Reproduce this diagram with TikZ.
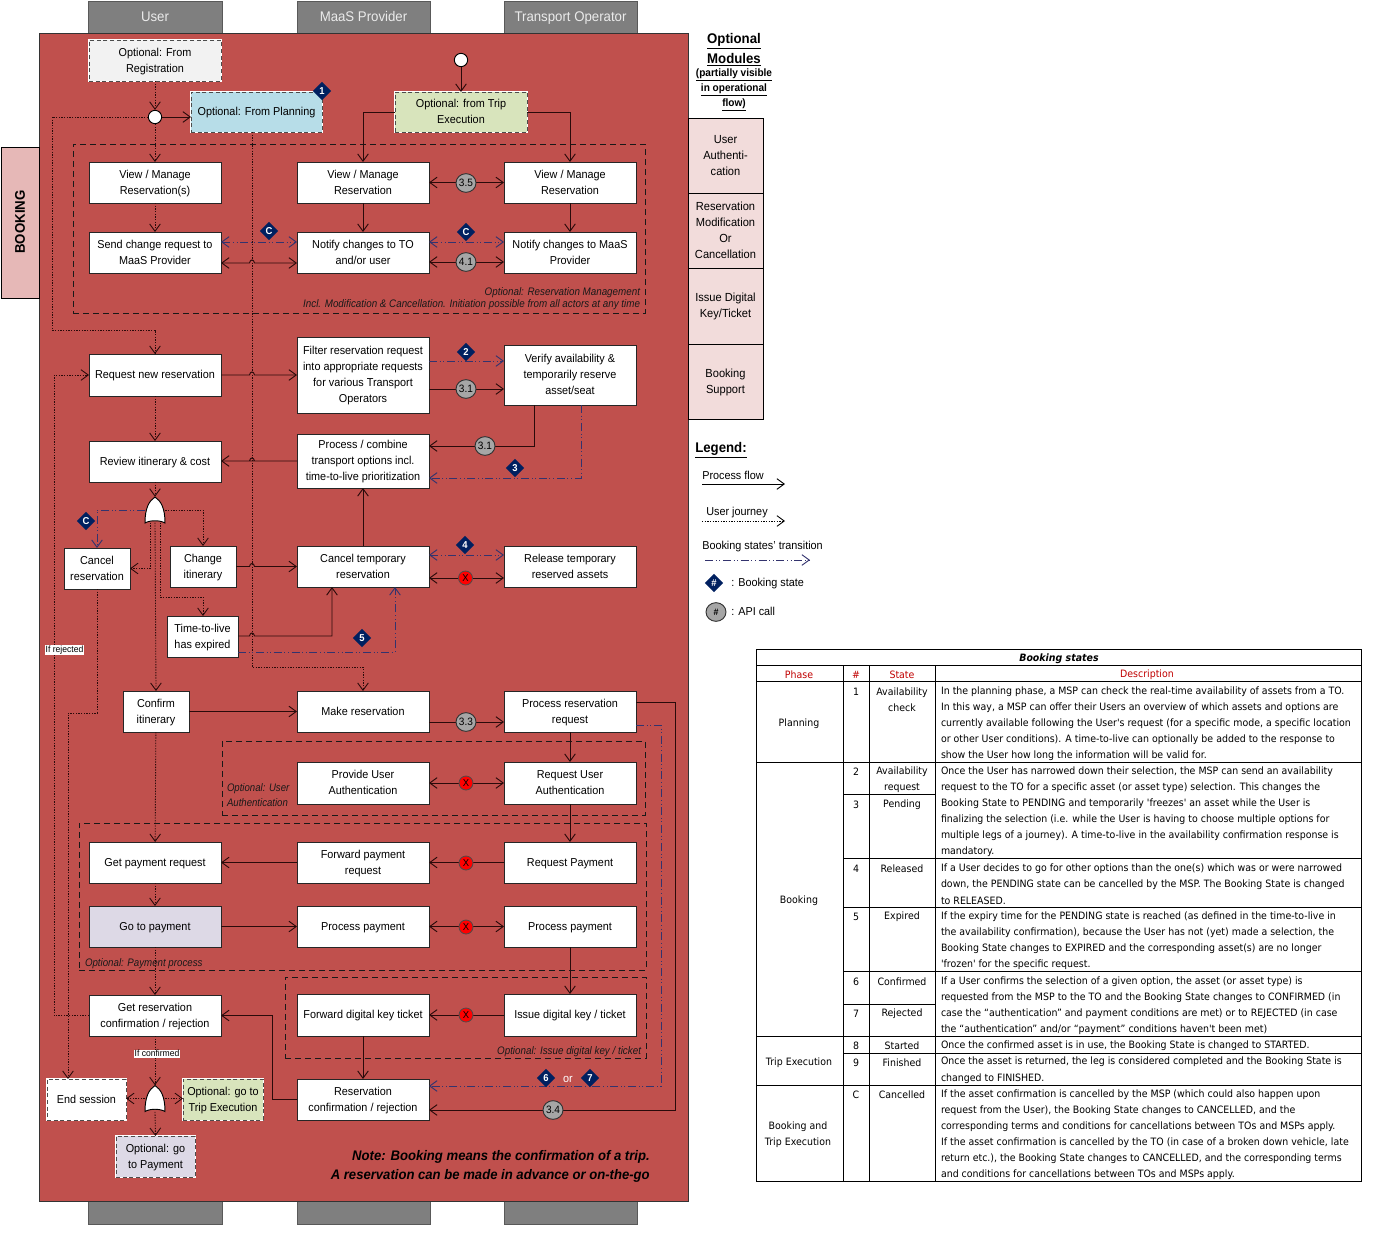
\documentclass[tikz,border=0pt]{standalone}
\usepackage{fontspec}
\setmainfont[FakeStretch=0.945]{Liberation Sans}
\newfontfamily\tblfont[FakeStretch=0.93]{DejaVu Sans}
\usetikzlibrary{arrows.meta,shapes.geometric,calc}
\definecolor{bookred}{HTML}{C0504D}
\definecolor{tabgray}{HTML}{7F7F7F}
\definecolor{linedark}{HTML}{2A0A0A}
\definecolor{statecol}{HTML}{33336E}
\definecolor{navy}{HTML}{002060}
\definecolor{optblue}{HTML}{B7DDE8}
\definecolor{optgreen}{HTML}{D8E4BC}
\definecolor{optpurple}{HTML}{DDD9E6}
\definecolor{modpink}{HTML}{F2DCDB}
\definecolor{sidepink}{HTML}{E6B8B7}
\definecolor{apigray}{HTML}{A6A6A6}
\definecolor{tblred}{HTML}{C00000}
\newcommand{\bx}[7]{%
 \pgfmathsetmacro\cxx{(#3+#5)/2}\pgfmathsetmacro\cyy{(#4+#6)/2}%
 \pgfmathsetmacro\ww{(#5-#3)*0.75}\pgfmathsetmacro\hh{(#6-#4)*0.75}%
 \node[#1,minimum width=\ww pt,minimum height=\hh pt] (#2) at (\cxx,\cyy) {};
 {\tikzset{optwhite/.style={}}%
 \node[#1,draw=none,fill=none] (#2text) at (\cxx,\cyy+0.7) {\rule{0pt}{6.5pt}#7\rule[-1.8pt]{0pt}{0pt}};}}
\newcommand{\bump}[1]{-- (249.5,#1) .. controls (250,#1-4) and (254,#1-4) .. (254.5,#1)}
\tikzset{
 optwhite/.style={preaction={draw=white,solid,line width=1pt}},
 txt/.style={font=\fontsize{8.6}{12}\selectfont,align=center,inner sep=0pt,outer sep=0pt},
 procbox/.style={txt,draw=black!85,line width=0.7pt,fill=white},
 optbox/.style={txt,optwhite,draw=black!70,line width=0.65pt,dash pattern=on 3pt off 2pt},
 tabbox/.style={txt,draw=black!65,line width=0.7pt,fill=tabgray,text=white!92!black,font=\fontsize{10.5}{12}\selectfont},
 modbox/.style={txt,draw=black,line width=0.7pt,fill=modpink,font=\fontsize{8.8}{12}\selectfont},
 groupbox/.style={draw=black!90,line width=0.7pt,dash pattern=on 4.5pt off 3pt},
 flow/.style={draw=linedark,line width=0.7pt,-{Straight Barb[length=5.5pt,width=8pt]}},
 flowboth/.style={draw=linedark,line width=0.7pt,{Straight Barb[length=5.5pt,width=8pt]}-{Straight Barb[length=5.5pt,width=8pt]}},
 journey/.style={draw=linedark,line width=0.65pt,dash pattern=on 1pt off 1pt,-{Straight Barb[length=5.5pt,width=8pt]}},
 statearr/.style={draw=statecol,line width=0.7pt,dash pattern=on 6pt off 2pt on 0.7pt off 2pt on 0.7pt off 2pt,-{Straight Barb[length=5.5pt,width=8pt]}},
 stateboth/.style={draw=statecol,line width=0.7pt,dash pattern=on 6pt off 2pt on 0.7pt off 2pt on 0.7pt off 2pt,{Straight Barb[length=5.5pt,width=8pt]}-{Straight Barb[length=5.5pt,width=8pt]}},
 badge/.style={diamond,aspect=1,fill=navy,text=white,font=\fontsize{7.5}{8}\bfseries\selectfont,inner sep=0pt,minimum size=14pt},
 api/.style={ellipse,draw=black!80,line width=0.7pt,fill=apigray,inner sep=0pt,minimum width=15pt,minimum height=14pt,font=\fontsize{8}{8}\selectfont},
 xmark/.style={circle,draw=black!70,line width=0.6pt,fill=red,inner sep=0pt,minimum size=10.5pt,font=\fontsize{7.5}{8}\selectfont},
 startdot/.style={circle,draw=black,line width=0.7pt,fill=white,inner sep=0pt,minimum size=10pt},
 gatebox/.style={inner sep=0pt,minimum width=15pt,minimum height=19.5pt},
 gateshape/.style={draw=black,line width=0.7pt,fill=white},
 optlabel/.style={txt,font=\fontsize{8.2}{9}\itshape\selectfont,text=black!90},
 tag/.style={fill=white,inner sep=0.5pt,font=\fontsize{6.8}{8}\selectfont},
 tbl/.style={inner sep=0pt,outer sep=0pt,font=\tblfont\fontsize{7.6}{12}\selectfont},
 tblc/.style={tbl,align=center},
 legendtext/.style={inner sep=0pt,anchor=west,font=\fontsize{8.6}{12}\selectfont},
}
\begin{document}
\begin{tikzpicture}[x=0.75pt,y=-0.75pt]
\useasboundingbox (0,0) rectangle (1378,1253);
% tabs
\bx{tabbox}{tabU}{88}{1}{222}{33}{User}
\bx{tabbox}{tabM}{297}{1}{430}{33}{MaaS Provider}
\bx{tabbox}{tabT}{504}{1}{637}{33}{Transport Operator}
\bx{tabbox}{tabUb}{88}{1201}{222}{1224}{}
\bx{tabbox}{tabMb}{297}{1201}{430}{1224}{}
\bx{tabbox}{tabTb}{504}{1201}{637}{1224}{}
% main panel
\bx{draw=black!80,line width=0.7pt,fill=bookred}{panel}{39}{33}{688}{1201}{}
\bx{txt,draw=black,line width=0.7pt,fill=sidepink}{side}{1}{147}{39}{298}{\rotatebox{90}{\fontsize{10.5}{12}\bfseries\selectfont BOOKING}}
% group frames
\bx{groupbox}{grpA}{73}{144}{645}{313}{}
\bx{groupbox}{grpB}{222}{741}{645}{815}{}
\bx{groupbox}{grpC}{79}{823}{646}{970}{}
\bx{groupbox}{grpD}{285}{977}{646}{1058}{}
% boxes
\bx{optbox,fill=black!5}{reg}{89}{40}{221}{81}{Optional: From\\Registration}
\bx{optbox,fill=optblue}{plan}{191}{92}{322}{132}{Optional: From Planning}
\bx{optbox,fill=optgreen}{trip}{395}{92}{527}{132}{Optional: from Trip\\Execution}
\node[startdot] (dotU) at (155,117) {};
\node[startdot] (dotT) at (461,60) {};
\bx{procbox}{viewU}{89}{162}{221}{203}{View / Manage\\Reservation(s)}
\bx{procbox}{viewM}{297}{162}{429}{203}{View / Manage\\Reservation}
\bx{procbox}{viewT}{504}{162}{636}{203}{View / Manage\\Reservation}
\bx{procbox}{send}{89}{232}{221}{273}{Send change request to\\MaaS Provider}
\bx{procbox}{notM}{297}{232}{429}{273}{Notify changes to TO\\and/or user}
\bx{procbox}{notT}{504}{232}{636}{273}{Notify changes to MaaS\\Provider}
\bx{procbox}{reqnew}{89}{354}{221}{396}{Request new reservation}
\bx{procbox}{filter}{297}{337}{429}{413}{Filter reservation request\\into appropriate requests\\for various Transport\\Operators}
\bx{procbox}{verify}{504}{345}{636}{405}{Verify availability \&\\temporarily reserve\\asset/seat}
\bx{procbox}{review}{89}{441}{221}{482}{Review itinerary \& cost}
\bx{procbox}{combine}{297}{434}{429}{488}{Process / combine\\transport options incl.\\time-to-live prioritization}
\bx{procbox}{cancel}{64}{548}{130}{589}{Cancel\\reservation}
\bx{procbox}{change}{170}{546}{236}{587}{Change\\itinerary}
\bx{procbox}{ctemp}{297}{546}{429}{587}{Cancel temporary\\reservation}
\bx{procbox}{release}{504}{546}{636}{587}{Release temporary\\reserved assets}
\bx{procbox}{ttl}{167}{616}{238}{657}{Time-to-live\\has expired}
\bx{procbox}{confirm}{123}{691}{189}{732}{Confirm\\itinerary}
\bx{procbox}{make}{297}{691}{429}{732}{Make reservation}
\bx{procbox}{procres}{504}{691}{636}{732}{Process reservation\\request}
\bx{procbox}{provide}{297}{762}{429}{804}{Provide User\\Authentication}
\bx{procbox}{reqauth}{504}{762}{636}{804}{Request User\\Authentication}
\bx{procbox}{getpay}{89}{842}{221}{883}{Get payment request}
\bx{procbox}{fwdpay}{297}{842}{429}{883}{Forward payment\\request}
\bx{procbox}{reqpay}{504}{842}{636}{883}{Request Payment}
\bx{procbox,fill=optpurple}{gopay}{89}{906}{221}{947}{Go to payment}
\bx{procbox}{procM}{297}{906}{429}{947}{Process payment}
\bx{procbox}{procT}{504}{906}{636}{947}{Process payment}
\bx{procbox}{getres}{89}{995}{221}{1036}{Get reservation\\confirmation / rejection}
\bx{procbox}{fwdkey}{297}{994}{429}{1036}{Forward digital key ticket}
\bx{procbox}{issue}{504}{994}{636}{1036}{Issue digital key / ticket}
\bx{procbox}{resconf}{297}{1079}{429}{1120}{Reservation\\confirmation / rejection}
\bx{optbox,fill=white}{endsess}{47}{1079}{126}{1120}{End session}
\bx{optbox,fill=optgreen}{optTrip}{183}{1079}{263}{1120}{Optional: go to\\Trip Execution}
\bx{optbox,fill=optpurple}{optPay}{116}{1136}{195}{1177}{Optional: go\\to Payment}
% gates
\node[gatebox] (gateA) at (155,510) {};
\node[gatebox] (gateB) at (155,1098.5) {};
% connectors: user journey
\draw[journey] (reg) -- (dotU);
\draw[journey] (dotU) -- (viewU);
\draw[journey] (viewU) -- (send);
\draw[journey] (dotU.west) -| (52,330) -| (reqnew.north);
\draw[journey] (reqnew) -- (review);
\draw[journey] (review) -- (gateA.north);
\draw[journey] (gateA.east) -| (change.north);
\draw[journey] (150,520) |- (cancel.east);
\draw[journey] (155,520) -- (confirm.north);
\draw[journey] (160,520) |- (203,597) -- (ttl.north -| 203,0);
\draw[journey] (confirm) -- (getpay);
\draw[journey] (getpay) -- (gopay);
\draw[journey] (gopay) -- (getres);
\draw[journey] (getres) -- (gateB.north);
\draw[journey] (gateB.east) -- (optTrip.west |- gateB.east);
\draw[journey] (gateB.west) -- (endsess.east |- gateB.west);
\draw[journey] (gateB.south) -- (optPay.north);
\draw[journey] (getres.west) -| (54,375) -- (reqnew.west);
\draw[journey] (cancel.south) |- (68,713) -- (68,1079);
\draw[journey] (252,132) |- (363,667) -- (make.north);
% connectors: process flow
\draw[flow] (dotU) -- (dotU -| plan.west);
\draw[flow] (dotT) -- (trip.north -| dotT);
\draw[flow] (trip.west) -| (viewM.north);
\draw[flow] (trip.east) -| (viewT.north);
\draw[flow] (viewM) -- (notM);
\draw[flow] (viewT) -- (notT);
\draw[flowboth] (viewM) -- (viewT);
\draw[flowboth] (notM.east |- 0,262) -- (notT.west |- 0,262);
\draw[flowboth] (send.east |- 0,263) \bump{263} -- (notM.west |- 0,263);
\draw[flow] (reqnew) \bump{375} -- (filter.west |- reqnew);
\draw[flow] (filter.east |- 0,389) -- (verify.west |- 0,389);
\draw[flow] (verify.south -| 534,0) |- (combine.east |- 0,446);
\draw[flow] (combine.west |- 0,461) \bump{461} -- (review.east |- 0,461);
\draw[flow] (ctemp) -- (combine);
\draw[flow] (change) \bump{566.5} -- (ctemp.west |- change);
\draw[flowboth] (ctemp.east |- 0,578) -- (release.west |- 0,578);
\draw[flow] (ttl.east |- 0,636) \bump{636} -| (ctemp.south -| 332,0);
\draw[flow] (confirm) -- (make.west |- confirm);
\draw[flow] (make.east |- 0,722) -- (procres.west |- 0,722);
\draw[flow] (procres) -- (reqauth);
\draw[flowboth] (provide) -- (reqauth);
\draw[flow] (reqauth) -- (reqpay);
\draw[flow] (reqpay) -- (fwdpay);
\draw[flow] (fwdpay) -- (getpay);
\draw[flow] (gopay) -- (procM);
\draw[flowboth] (procM) -- (procT);
\draw[flow] (procT) -- (issue);
\draw[flow] (issue) -- (fwdkey);
\draw[flow] (fwdkey) -- (resconf);
\draw[flow] (resconf.west) -| (272,1015.5) -- (getres.east);
\draw[flow] (procres.east |- 0,702) -| (675,1110) -- (resconf.east |- 0,1110);
% connectors: state transitions
\draw[stateboth] (send.east |- 0,242) -- (notM.west |- 0,242);
\draw[stateboth] (notM.east |- 0,242) -- (notT.west |- 0,242);
\draw[statearr] (filter.east |- 0,361) -- (verify.west |- 0,361);
\draw[statearr] (verify.south -| 581,0) |- (combine.east |- 0,478);
\draw[statearr] (gateA.west) -| (cancel.north);
\draw[stateboth] (ctemp.east |- 0,555) -- (release.west |- 0,555);
\draw[statearr] (ttl.east |- 0,652) -| (ctemp.south -| 395,0);
\draw[statearr] (procres.east |- 0,725) -| (661,1086) -- (resconf.east |- 0,1086);
% gate shapes
\draw[gateshape,shift={(gateA.center)}] (0,-13) .. controls (6,-9) and (10,-2) .. (10,13) .. controls (5,10) and (-5,10) .. (-10,13) .. controls (-10,-2) and (-6,-9) .. (0,-13) -- cycle;
\draw[gateshape,shift={(gateB.center)}] (0,-13) .. controls (6,-9) and (10,-2) .. (10,13) .. controls (5,10) and (-5,10) .. (-10,13) .. controls (-10,-2) and (-6,-9) .. (0,-13) -- cycle;
% badges
\node[badge] (b1) at (322,91) {1};
\node[badge] (cA) at (269,231) {C};
\node[badge] (cB) at (466,232) {C};
\node[badge] (b2) at (466,352) {2};
\node[badge] (b3) at (515,468) {3};
\node[badge] (cC) at (86,521) {C};
\node[badge] (b4) at (465,545) {4};
\node[badge] (b5) at (362,638) {5};
\node[badge] (b6) at (546,1078) {6};
\node[inner sep=0pt,text=white,font=\fontsize{8.6}{10}\selectfont] (orx) at (568,1079) {or};
\node[badge] (b7) at (590,1078) {7};
% api calls
\node[api] (a35) at (466,183) {3.5};
\node[api] (a41) at (466,262) {4.1};
\node[api] (a31) at (466,389) {3.1};
\node[api] (a31b) at (485,446) {3.1};
\node[api] (a33) at (466,722) {3.3};
\node[api] (a34) at (553,1110) {3.4};
\node[xmark] (x1) at (465.5,578) {X};
\node[xmark] (x2) at (466,783) {X};
\node[xmark] (x3) at (466,863) {X};
\node[xmark] (x4) at (466,927) {X};
\node[xmark] (x5) at (466,1015) {X};
% tags and labels
\node[tag] (ifrej) at (64.5,650) {If rejected};
\node[tag] (ifconf) at (157,1053.5) {If confirmed};
\node[optlabel,anchor=east,xscale=0.95] (lA1) at (640,293) {Optional: Reservation Management};
\node[optlabel,anchor=east,xscale=0.95] (lA2) at (640,305) {Incl. Modification \& Cancellation. Initiation possible from all actors at any time};
\node[optlabel,anchor=west,xscale=0.93] (lB1) at (227,789) {Optional: User};
\node[optlabel,anchor=west,xscale=0.93] (lB2) at (227,803) {Authentication};
\node[optlabel,anchor=west,xscale=0.94] (lC) at (85,964) {Optional: Payment process};
\node[optlabel,anchor=east,xscale=0.95] (lD) at (641,1052) {Optional: Issue digital key / ticket};
\node[inner sep=0pt,anchor=east,font=\fontsize{10.4}{12}\bfseries\itshape\selectfont] (note1) at (650,1157) {Note: Booking means the confirmation of a trip.};
\node[inner sep=0pt,anchor=east,font=\fontsize{10.4}{12}\bfseries\itshape\selectfont] (note2) at (650,1176) {A reservation can be made in advance or on-the-go};
% optional modules
\node[inner sep=0pt,align=center,font=\fontsize{10.5}{15}\bfseries\selectfont] (omh) at (734,50) {\underline{Optional}\\\underline{Modules}};
\node[inner sep=0pt,align=center,font=\fontsize{8}{11.2}\bfseries\selectfont] (oms) at (734,90) {\underline{(partially visible}\\\underline{in operational}\\\underline{flow)}};
\bx{modbox}{m1}{688}{118}{763}{193}{User\\Authenti-\\cation}
\bx{modbox}{m2}{688}{193}{763}{268}{Reservation\\Modification\\Or\\Cancellation}
\bx{modbox}{m3}{688}{268}{763}{344}{Issue Digital\\Key/Ticket}
\bx{modbox}{m4}{688}{344}{763}{419}{Booking\\Support}
% legend
\node[inner sep=0pt,anchor=west,font=\fontsize{10.5}{12}\bfseries\selectfont] (leg) at (695,450) {\underline{Legend:}};
\node[legendtext] (lg1) at (702,475.5) {Process flow};
\coordinate (lg1a) at (702,484); \coordinate (lg1b) at (785,484);
\draw[flow,draw=black,line width=0.7pt] (lg1a) -- (lg1b);
\node[legendtext] (lg2) at (706,513) {User journey};
\coordinate (lg2a) at (702,521); \coordinate (lg2b) at (785,521);
\draw[journey,draw=black] (lg2a) -- (lg2b);
\node[legendtext] (lg3) at (702,547) {Booking states' transition};
\coordinate (lg3a) at (705,560); \coordinate (lg3b) at (810,560);
\draw[statearr] (lg3a) -- (lg3b);
\node[badge] (lg4d) at (714,583) {\#};
\node[legendtext] (lg4) at (731,584) {: Booking state};
\node[api,font=\fontsize{7}{8}\bfseries\selectfont] (lg5d) at (716,612) {\#};
\node[legendtext] (lg5) at (731,611) {: API call};
% table
\draw[black,line width=0.7pt] (756,649) rectangle (1361,1181);
\foreach \yy in {665,681,762,1036,1085} \draw[black,line width=0.7pt] (756,\yy) -- (1361,\yy);
\foreach \yy in {858,907,971,1053} \draw[black,line width=0.7pt] (843,\yy) -- (1361,\yy);
\foreach \yy in {794,1004} \draw[black,line width=0.7pt] (843,\yy) -- (935,\yy);
\foreach \xx in {843,869,935} \draw[black,line width=0.7pt] (\xx,665) -- (\xx,1181);
\node[tbl] (th) at (1059,659) {\bfseries\itshape Booking states};
\node[tbl,text=tblred] (h1) at (799,675) {Phase};
\node[tbl,text=tblred] (h2) at (856,675) {\#};
\node[tbl,text=tblred] (h3) at (902,675) {State};
\node[tbl,text=tblred] (h4) at (1147,675) {Description};
\node[tblc] (p1) at (799,724) {Planning};
\node[tblc] (p2) at (799,901) {Booking};
\node[tblc] (p3) at (799,1063) {Trip Execution};
\node[tblc] (p4) at (798,1135) {Booking and\\Trip Execution};
\foreach \yy/\nn in {692/1,772/2,805/3,869/4,917/5,982/6,1014/7,1046/8,1063/9,1095/C}
  \node[tbl] (n\nn) at (856,\yy) {\nn};
\node[tblc] (s1) at (902,700) {Availability\\check};
\node[tblc] (s2) at (902,780) {Availability\\request};
\node[tbl] (s3) at (902,805) {Pending};
\node[tbl] (s4) at (902,869) {Released};
\node[tbl] (s5) at (902,917) {Expired};
\node[tbl] (s6) at (902,982) {Confirmed};
\node[tbl] (s7) at (902,1014) {Rejected};
\node[tbl] (s8) at (902,1046) {Started};
\node[tbl] (s9) at (902,1063) {Finished};
\node[tbl] (sC) at (902,1095) {Cancelled};
\foreach \yy/\txt in {
692/{In the planning phase, a MSP can check the real-time availability of assets from a TO.},
708/{In this way, a MSP can offer their Users an overview of which assets and options are},
724/{currently available following the User's request (for a specific mode, a specific location},
740/{or other User conditions). A time-to-live can optionally be added to the response to},
756/{show the User how long the information will be valid for.},
772/{Once the User has narrowed down their selection, the MSP can send an availability},
788/{request to the TO for a specific asset (or asset type) selection. This changes the},
804/{Booking State to PENDING and temporarily 'freezes' an asset while the User is},
820/{finalizing the selection (i.e. while the User is having to choose multiple options for},
836/{multiple legs of a journey). A time-to-live in the availability confirmation response is},
852/{mandatory.},
869/{If a User decides to go for other options than the one(s) which was or were narrowed},
885/{down, the PENDING state can be cancelled by the MSP. The Booking State is changed},
901/{to RELEASED.},
917/{If the expiry time for the PENDING state is reached (as defined in the time-to-live in},
933/{the availability confirmation), because the User has not (yet) made a selection, the},
949/{Booking State changes to EXPIRED and the corresponding asset(s) are no longer},
965/{'frozen' for the specific request.},
982/{If a User confirms the selection of a given option, the asset (or asset type) is},
998/{requested from the MSP to the TO and the Booking State changes to CONFIRMED (in},
1014/{case the “authentication” and payment conditions are met) or to REJECTED (in case},
1030/{the “authentication” and/or “payment” conditions haven't been met)},
1046/{Once the confirmed asset is in use, the Booking State is changed to STARTED.},
1062/{Once the asset is returned, the leg is considered completed and the Booking State is},
1079/{changed to FINISHED.},
1095/{If the asset confirmation is cancelled by the MSP (which could also happen upon},
1111/{request from the User), the Booking State changes to CANCELLED, and the},
1127/{corresponding terms and conditions for cancellations between TOs and MSPs apply.},
1143/{If the asset confirmation is cancelled by the TO (in case of a broken down vehicle, late},
1159/{return etc.), the Booking State changes to CANCELLED, and the corresponding terms},
1175/{and conditions for cancellations between TOs and MSPs apply.}}
  \node[tbl,anchor=west] (d\yy) at (941,\yy) {\txt};
\end{tikzpicture}
\end{document}
